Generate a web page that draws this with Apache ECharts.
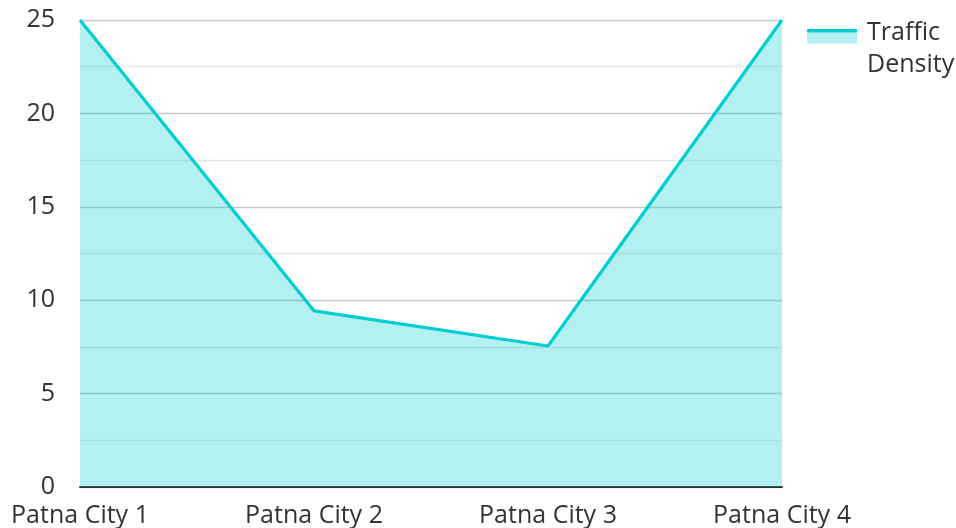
<!DOCTYPE html>
<html><head><meta charset="utf-8">
<script src="https://cdn.jsdelivr.net/npm/echarts@6/dist/echarts.min.js"></script>
<style>html,body{margin:0;padding:0;background:#fff}#c{width:956px;height:528px}</style>
</head><body><div id="c"></div>
<script>
const categories = ['Patna City 1', 'Patna City 2', 'Patna City 3', 'Patna City 4'];
const seriesName = 'Traffic Density';
const trafficDensity = [25, 9.43, 7.55, 25];
const yTicks = [0, 5, 10, 15, 20, 25];

const lineColor = '#00CED1';
const iconSvg = '<svg xmlns="http://www.w3.org/2000/svg" width="50" height="41"><rect x="0" y="4" width="50" height="11" fill="#b2f0f1"/><rect x="0" y="0" width="50" height="4" fill="#00CED1"/></svg>';
const iconUri = 'image://data:image/svg+xml;base64,' + btoa(iconSvg);

const chart = echarts.init(document.getElementById('c'));
chart.setOption({
  animation: false,
  textStyle: { fontFamily: 'Open Sans' },
  grid: { left: 80, right: 174, top: 20, bottom: 41, containLabel: false },
  legend: {
    left: 807, top: 17, padding: 0,
    orient: 'vertical',
    itemWidth: 50, itemHeight: 41,
    data: [{ name: seriesName, icon: iconUri }],
    formatter: function () { return 'Traffic\nDensity'; },
    textStyle: { fontSize: 25, color: '#333', lineHeight: 32, fontFamily: 'Open Sans', padding: [0, 0, 0, 5] }
  },
  xAxis: {
    type: 'category', data: categories, boundaryGap: false,
    axisLine: { lineStyle: { color: '#333', width: 2 } },
    axisTick: { show: false },
    axisLabel: { fontSize: 25, color: '#333', margin: 16, fontFamily: 'Open Sans' },
    splitLine: { show: false }
  },
  yAxis: {
    type: 'value', min: yTicks[0], max: yTicks[yTicks.length - 1], interval: 5,
    axisLine: { show: false }, axisTick: { show: false },
    axisLabel: { fontSize: 25, color: '#333', margin: 25, fontFamily: 'Open Sans' },
    splitLine: { lineStyle: { color: '#c8c8c8', width: 1.3 } },
    minorTick: { show: false, splitNumber: 2 },
    minorSplitLine: { show: true, lineStyle: { color: '#e8e8e8', width: 1.3 } }
  },
  series: [{
    name: seriesName, type: 'line', data: trafficDensity,
    symbol: 'none', smooth: false,
    lineStyle: { color: lineColor, width: 3.2 },
    itemStyle: { color: lineColor },
    areaStyle: { color: lineColor, opacity: 0.3 }
  }]
});
</script></body></html>
